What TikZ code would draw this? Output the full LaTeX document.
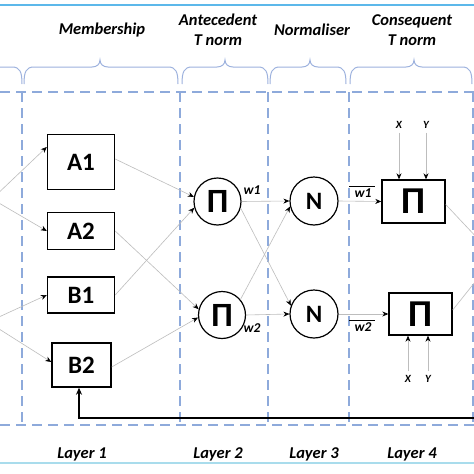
\documentclass[tikz,border=0pt]{standalone}
\usepackage{fontspec}
\setmainfont{Carlito}
\usetikzlibrary{arrows.meta}
\definecolor{topblue}{HTML}{5CB8EA}
\definecolor{botcyan}{HTML}{A9DCEC}
\definecolor{dashblue}{HTML}{8EAADB}
\definecolor{braceblue}{HTML}{9DB2DE}
\definecolor{edgegray}{HTML}{BDBDBD}
\newcommand\mybrace[3]{%
  \draw[bracestyle] (#1,84) .. controls (#1,72) and (#1+2,67) .. (#1+10,67) -- (#2-8,67)
    .. controls (#2-3,67) and (#2,64) .. (#2,60)
    .. controls (#2,64) and (#2+3,67) .. (#2+8,67) -- (#3-10,67)
    .. controls (#3-2,67) and (#3,72) .. (#3,84);}
\begin{document}
\begin{tikzpicture}[x=1pt,y=-1pt,
  bracestyle/.style={draw=braceblue,line width=1pt},
  dashline/.style={draw=dashblue,line width=1.2pt,dash pattern=on 10pt off 6pt},
  lab/.style={font=\bfseries\itshape\fontsize{16.5}{20}\selectfont,inner sep=0pt},
  wlab/.style={font=\bfseries\itshape\fontsize{13.5}{13.5}\selectfont,inner sep=1pt},
  xylab/.style={font=\bfseries\itshape\fontsize{11}{11}\selectfont,inner sep=0pt},
  mfbox/.style={draw=black,line width=1.4pt,inner sep=0pt,font=\bfseries\fontsize{25}{25}\selectfont},
  pcirc/.style={draw=black,line width=1.2pt,circle,inner sep=0pt,minimum size=47pt,font=\bfseries\fontsize{34}{34}\selectfont},
  ncirc/.style={draw=black,line width=1.2pt,circle,inner sep=0pt,minimum size=48pt,font=\bfseries\fontsize{25}{25}\selectfont},
  pbox/.style={draw=black,line width=1.4pt,inner sep=0pt,minimum width=63pt,minimum height=43pt,font=\bfseries\fontsize{38}{38}\selectfont},
  conn/.style={draw=edgegray,line width=0.6pt,-{Stealth[length=6pt,width=5pt,color=black]}},
  fbline/.style={draw=black,line width=1.3pt,-{Stealth[length=7pt,width=6pt,color=black]}}
]
\useasboundingbox (0,0) rectangle (474,474);
\clip (0,0) rectangle (474,474);
\fill[white] (0,0) rectangle (474,474);

% top and bottom rules
\draw[topblue,line width=2.5pt] (0,5) -- (474,5);
\draw[botcyan,line width=1.6pt] (0,463) -- (474,463);

% braces
\mybrace{-70}{-30}{22}
\mybrace{24}{100}{178}
\mybrace{182}{225}{268}
\mybrace{270}{310}{346}
\mybrace{350}{414}{472}
\mybrace{476}{520}{560}

% dashed frame
\draw[dashline] (0,92) -- (474,92);
\draw[dashline] (0,425) -- (474,425);
\foreach \xx in {22,180,268,349,473} {\draw[dashline] (\xx,92) -- (\xx,425);}

% headings
\node[lab] (tMem) at (102,30) {Membership};
\node[lab,align=center] (tAnt) at (218,30) {Antecedent\\T norm};
\node[lab] (tNrm) at (312,30) {Normaliser};
\node[lab,align=center] (tCon) at (412,30) {Consequent\\T norm};
\node[lab] (L1) at (82,454) {Layer 1};
\node[lab] (L2) at (218,454) {Layer 2};
\node[lab] (L3) at (314,454) {Layer 3};
\node[lab] (L4) at (412,454) {Layer 4};

% layer 1
\node[mfbox,minimum width=67pt,minimum height=55pt] (A1) at (81,162) {A1};
\node[mfbox,minimum width=67pt,minimum height=37pt] (A2) at (81,231) {A2};
\node[mfbox,minimum width=67pt,minimum height=36pt] (B1) at (81,295) {B1};
\node[mfbox,minimum width=59pt,minimum height=44pt] (B2) at (81.5,365) {B2};

% layer 2
\node[pcirc] (P1) at (217.5,201.5) {Π};
\node[pcirc] (P2) at (222,315) {Π};

% layer 3
\node[ncirc] (N1) at (314,201) {N};
\node[ncirc] (N2) at (314,314) {N};

% layer 4
\node[pbox] (C1) at (413.5,201.5) {Π};
\node[pbox,minimum height=42pt] (C2) at (420.5,314) {Π};

% inputs
\coordinate (x0) at (-8,199);
\coordinate (y0) at (-12,322);
\coordinate (out) at (495,257);
\coordinate (fb) at (480,418);

\draw[conn] (x0) -- ([yshift=15pt]A1.west);
\draw[conn] (x0) -- (A2.west);
\draw[conn] (y0) -- (B1.west);
\draw[conn] (y0) -- ([yshift=3pt]B2.west);

\draw[conn] ([yshift=3pt]A1.east) -- (P1.169);
\draw[conn] (B1.east) -- (P1.195);
\draw[conn] (A2.east) -- (P2.166);
\draw[conn] ([yshift=-2pt]B2.east) -- (P2.186);

\draw[conn] (P1.east) -- (N1.west);
\draw[conn] (P2.east) -- (N2.west);
\draw[conn] (P1.-16) -- (N2.160);
\draw[conn] (P2.40) -- (N1.193);

\draw[conn] (N1.east) -- (C1.west);
\draw[conn] (N2.east) -- (C2.west);

\draw[draw=edgegray,line width=0.6pt] ([yshift=-3pt]C1.east) -- (out);
\draw[draw=edgegray,line width=0.6pt] ([yshift=4pt]C2.east) -- (out);

% labels on links
\node[wlab] (w1) at (252,190) {w1};
\node[wlab] (w2) at (252,328) {w2};
\node[wlab] (wb1) at (363,193) {w1};
\node[wlab] (wb2) at (363,327) {w2};
\draw[black,line width=0.8pt] ([xshift=-4pt,yshift=1pt]wb1.north west) -- ([xshift=2pt,yshift=1pt]wb1.north east);
\draw[black,line width=0.8pt] ([xshift=-4pt,yshift=1pt]wb2.north west) -- ([xshift=2pt,yshift=1pt]wb2.north east);

% X Y inputs of consequent
\node[xylab] (X1) at (399,125) {X};
\node[xylab] (Y1) at (426,125) {Y};
\node[xylab] (X2) at (408,379) {X};
\node[xylab] (Y2) at (428,379) {Y};
\draw[conn] ([yshift=-4pt]X1.south) -- ([xshift=-14.5pt]C1.north);
\draw[conn] ([yshift=-4pt]Y1.south) -- ([xshift=12.5pt]C1.north);
\draw[conn] ([yshift=4pt]X2.north) -- ([xshift=-12.5pt]C2.south);
\draw[conn] ([yshift=4pt]Y2.north) -- ([xshift=7.5pt]C2.south);

% feedback
\draw[fbline] (fb) -| ([xshift=-2.5pt]B2.south);
\end{tikzpicture}
\end{document}
